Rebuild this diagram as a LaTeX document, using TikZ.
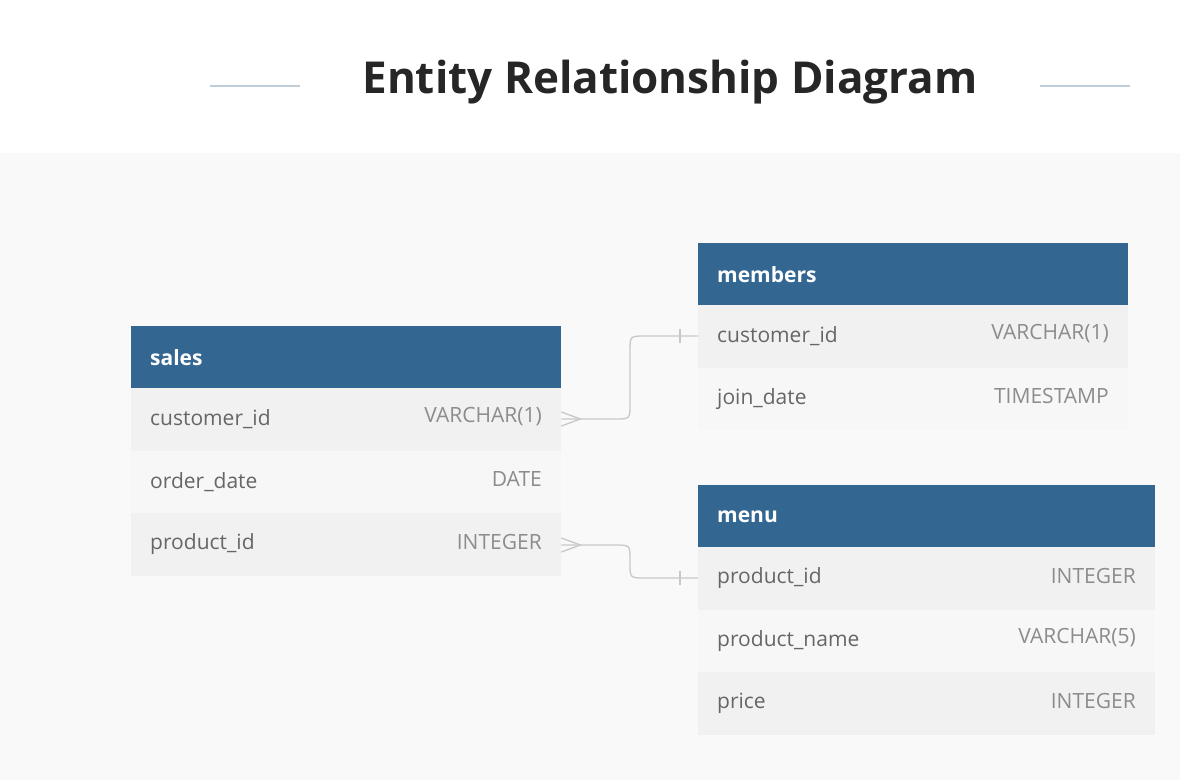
\documentclass[tikz,border=0pt]{standalone}
\usepackage{fontspec}
\setmainfont{Open Sans}
\usetikzlibrary{positioning,calc}
\definecolor{headcol}{RGB}{51,103,145}
\definecolor{rowcol}{RGB}{241,241,241}
\definecolor{bgcol}{RGB}{249,249,249}
\definecolor{linkcol}{RGB}{200,200,200}
\definecolor{rulecol}{RGB}{190,205,215}
\tikzset{
  head/.style={fill=headcol, text=white, font=\fontsize{21}{24}\selectfont\bfseries, anchor=north west, inner xsep=19pt, text depth=0pt, minimum height=62pt, align=left},
  field/.style={fill=rowcol, text=black!60, font=\fontsize{21}{24}\selectfont, anchor=north west, inner xsep=19pt, minimum height=62.5pt},
  ftype/.style={text=black!45, font=\fontsize{21}{24}\selectfont, anchor=east, inner sep=0pt}
}
\begin{document}
\begin{tikzpicture}[x=1pt,y=-1pt]
\useasboundingbox (0,0) rectangle (1180,780);
\fill[white] (0,0) rectangle (1180,153);
\fill[bgcol] (0,153) rectangle (1180,780);

% Title
\node[font=\fontsize{44}{50}\selectfont\bfseries, text=black!85] (title) at (670,82) {Entity Relationship Diagram};
\draw[rulecol, line width=1.2pt] (210,86) -- (300,86);
\draw[rulecol, line width=1.2pt] (1040,86) -- (1130,86);

% sales
\node[head, text width=392pt] (sales) at (131,326) {sales};
\node[field, text width=392pt] (s1) at (131,388) {customer\_id};
\node[field, text width=392pt, fill=rowcol!60!white] (s2) at (131,450.5) {order\_date};
\node[field, text width=392pt] (s3) at (131,513) {product\_id};
\node[ftype] at (542,417) {VARCHAR(1)};
\node[ftype] at (542,479) {DATE};
\node[ftype] at (542,542) {INTEGER};

% members
\node[head, text width=392pt] (members) at (698,243) {members};
\node[field, text width=392pt] (m1) at (698,305) {customer\_id};
\node[field, text width=392pt, fill=rowcol!60!white] (m2) at (698,367.5) {join\_date};
\node[ftype] at (1109,334) {VARCHAR(1)};
\node[ftype] at (1109,396) {TIMESTAMP};

% menu
\node[head, text width=419pt] (menu) at (698,485) {menu};
\node[field, text width=419pt] (n1) at (698,547) {product\_id};
\node[field, text width=419pt, fill=rowcol!60!white] (n2) at (698,609.5) {product\_name};
\node[field, text width=419pt] (n3) at (698,672) {price};
\node[ftype] at (1136,576) {INTEGER};
\node[ftype] at (1136,638) {VARCHAR(5)};
\node[ftype] at (1136,701) {INTEGER};

% links
\coordinate (a1) at (s1.east |- 0,419);
\coordinate (b1) at (m1.west |- 0,336);
\draw[linkcol, line width=1.3pt] (a1) -- (615,419) .. controls (630,419) .. (630,404) -- (630,351) .. controls (630,336) .. (645,336) -- (b1);
\draw[linkcol, line width=1.3pt] ($(a1)+(0,-7)$) -- ($(a1)+(19,0)$) -- ($(a1)+(0,7)$);
\draw[linkcol, line width=1.3pt] (680,329) -- (680,343);

\coordinate (a2) at (s3.east |- 0,545);
\coordinate (b2) at (n1.west |- 0,578);
\draw[linkcol, line width=1.3pt] (a2) -- (615,545) .. controls (630,545) .. (630,560) -- (630,563) .. controls (630,578) .. (645,578) -- (b2);
\draw[linkcol, line width=1.3pt] ($(a2)+(0,-7)$) -- ($(a2)+(19,0)$) -- ($(a2)+(0,7)$);
\draw[linkcol, line width=1.3pt] (680,571) -- (680,585);
\end{tikzpicture}
\end{document}
